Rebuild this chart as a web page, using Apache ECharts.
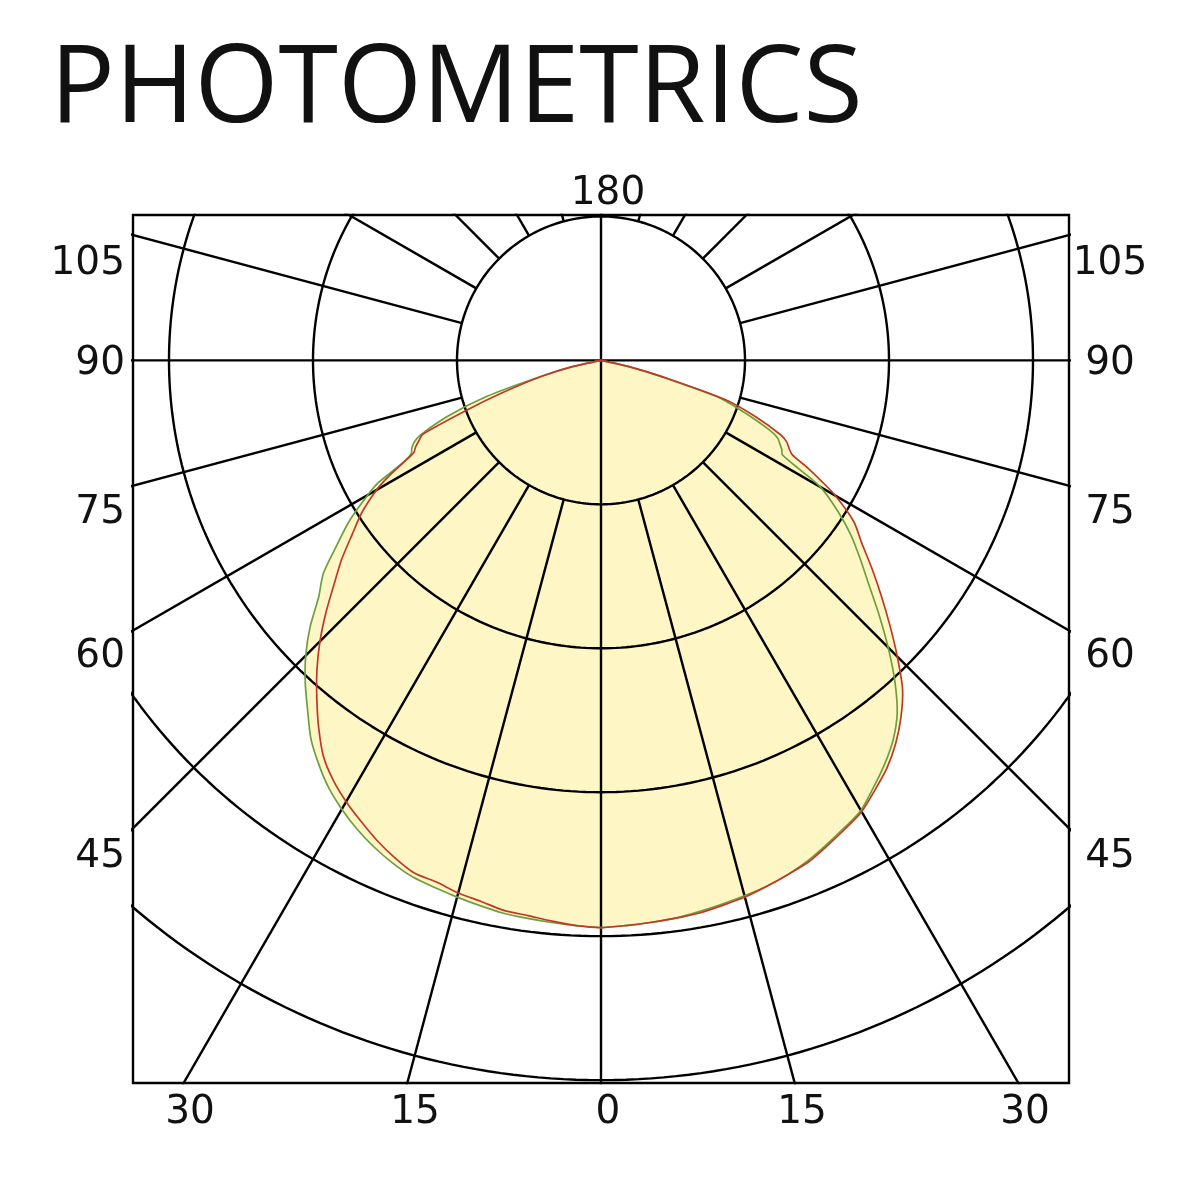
<!DOCTYPE html>
<html><head><meta charset="utf-8">
<script src="https://cdn.jsdelivr.net/npm/echarts@6/dist/echarts.min.js"></script>
<style>html,body{margin:0;padding:0;background:#fff}#c{width:1200px;height:1200px}</style>
</head><body><div id="c"></div>
<script>
// ---- data (gamma angle in degrees from nadir, intensity per plane) ----
const angles = [0,2.5,5,7.5,10,12.5,15,17.5,20,22.5,25,27.5,30,32.5,35,37.5,40,42.5,45,47.5,50,52.5,55,57.5,60,61.25,62.5,63.75,65,66.25,67.5,70,72.5,75,77.5,80,82.5,85,87.5,90];
// red curve: C0 (right half) and C180 (left half)
const c0   = [394,393,392,391,390,388,386,383,380,377,372,367,362,354,346,336,324,310,291,272,254,237,221,208,188,175,162,148,144,141,135,114,90,45,20,0,0,0,0,0];
const c180 = [394,393,391,389,388,385,383,380,379,374,368,361,354,346,336,322,307,292,276,259,242,227,211,197,180,169,156,145,142,138,134,95,65,42,21,0,0,0,0,0];
// green curve: C90 (right half) and C270 (left half)
const c90  = [394,393,392,391,389,387,385,383,380,376,371,366,361,352,343,333,320,302,282,262,243,227,212,195,176,157,142,140,137,134,127,106,86,43,19,0,0,0,0,0];
const c270 = [394,393,392,391,390,388,386,384,382,378,373,367,360,352,342,331,317,304,290,274,256,243,224,207,187,176,157,147,145,142,136,113,83,44,21,0,0,0,0,0];

const ringValues = [100,200,300,400,500];
const spokeAngles = [15,30,45,60,75,105,120,135,150,165];
const sideLabels = ['105','90','75','60','45'];
const bottomLabels = ['30','15','0','15','30'];
const topLabel = '180';
const titleText = 'PHOTOMETRICS';

// ---- helpers ----
const rad = d => d * Math.PI / 180;
function polar(theta, r, side) { // side: -1 left, +1 right; theta from nadir
  return [side * r * Math.sin(rad(theta)), -r * Math.cos(rad(theta))];
}
function curve(leftVals, rightVals) {
  const pts = [];
  const push = p => {
    const last = pts[pts.length - 1];
    if (!last || Math.abs(last[0] - p[0]) > 1e-9 || Math.abs(last[1] - p[1]) > 1e-9) pts.push(p);
  };
  for (let i = angles.length - 1; i >= 0; i--) push(polar(angles[i], leftVals[i], -1));
  for (let i = 1; i < angles.length; i++) push(polar(angles[i], rightVals[i], 1));
  return pts;
}
const redPts = curve(c180, c0);
const greenPts = curve(c270, c90);
const SMOOTH = 0.25;

const series = [];
// fill (union of both curves)
series.push({
  type: 'custom', coordinateSystem: 'cartesian2d', data: [[0, 0]], z: 1, silent: true,
  renderItem: function (params, api) {
    const fillColor = '#FFF6C6';
    return { type: 'group', children: [
      { type: 'polygon', shape: { points: redPts.map(p => api.coord(p)), smooth: SMOOTH }, style: { fill: fillColor } },
      { type: 'polygon', shape: { points: greenPts.map(p => api.coord(p)), smooth: SMOOTH }, style: { fill: fillColor } }
    ]};
  }
});
const gridLine = { color: '#000', width: 2.4 };
// rings
ringValues.forEach(r => {
  const d = [];
  for (let t = 0; t <= 360; t += 1) d.push([r * Math.sin(rad(t)), r * Math.cos(rad(t))]);
  series.push({ type: 'line', data: d, symbol: 'none', lineStyle: gridLine, z: 2, silent: true, clip: true });
});
// spokes from the inner ring outward, both sides
spokeAngles.forEach(a => {
  [-1, 1].forEach(s => {
    series.push({ type: 'line', data: [polar(a, ringValues[0], s), polar(a, 2000, s)], symbol: 'none',
      lineStyle: gridLine, z: 2, silent: true, clip: true });
  });
});
// full vertical (0-180) and horizontal (90) lines
series.push({ type: 'line', data: [[0, 2000], [0, -2000]], symbol: 'none', lineStyle: gridLine, z: 2, silent: true, clip: true });
series.push({ type: 'line', data: [[-2000, 0], [2000, 0]], symbol: 'none', lineStyle: gridLine, z: 2, silent: true, clip: true });
// curves
series.push({
  type: 'custom', coordinateSystem: 'cartesian2d', data: [[0, 0]], z: 5, silent: true,
  renderItem: function (params, api) {
    return { type: 'group', children: [
      { type: 'polyline', shape: { points: greenPts.map(p => api.coord(p)), smooth: SMOOTH }, style: { fill: null, stroke: '#6E9F3C', lineWidth: 1.7 } },
      { type: 'polyline', shape: { points: redPts.map(p => api.coord(p)), smooth: SMOOTH }, style: { fill: null, stroke: '#BE3A28', lineWidth: 1.7 } }
    ]};
  }
});

// ---- labels (layout) ----
const labelFont = '39px "DejaVu Sans"';
const sideY = [264, 364, 513, 657, 857];
const bottomX = [190, 415, 608, 802, 1025];
const graphic = [];
graphic.push({ type: 'text', x: 50, y: 91, style: { text: titleText, font: '108px "Open Sans"', fill: '#111', textAlign: 'left', textVerticalAlign: 'middle' } });
graphic.push({ type: 'text', x: 608, y: 194, style: { text: topLabel, font: labelFont, fill: '#111', textAlign: 'center', textVerticalAlign: 'middle' } });
sideLabels.forEach((t, i) => {
  graphic.push({ type: 'text', x: 125, y: sideY[i], style: { text: t, font: labelFont, fill: '#111', textAlign: 'right', textVerticalAlign: 'middle' } });
  graphic.push({ type: 'text', x: 1110, y: sideY[i], style: { text: t, font: labelFont, fill: '#111', textAlign: 'center', textVerticalAlign: 'middle' } });
});
bottomLabels.forEach((t, i) => {
  graphic.push({ type: 'text', x: bottomX[i], y: 1113, style: { text: t, font: labelFont, fill: '#111', textAlign: 'center', textVerticalAlign: 'middle' } });
});

const chart = echarts.init(document.getElementById('c'), null, { renderer: 'canvas' });
chart.setOption({
  animation: false,
  backgroundColor: '#fff',
  grid: { show: true, left: 133, top: 215, width: 936, height: 868, borderColor: '#000', borderWidth: 2.4, backgroundColor: 'transparent' },
  xAxis: { type: 'value', min: -325, max: 325, show: false },
  yAxis: { type: 'value', min: -502, max: 101, show: false },
  series: series,
  graphic: graphic
});
</script>
</body></html>
